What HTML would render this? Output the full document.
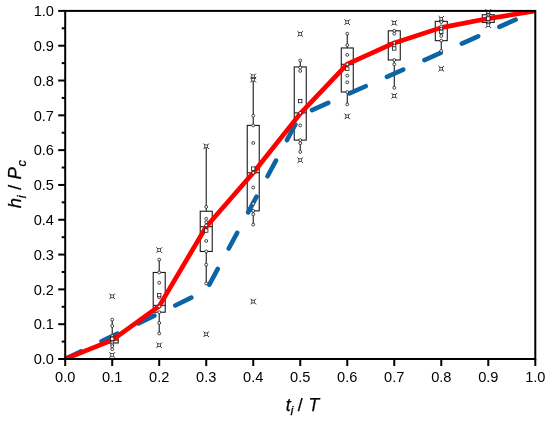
<!DOCTYPE html>
<html><head><meta charset="utf-8"><title>chart</title>
<style>html,body{margin:0;padding:0;background:#fff}svg{display:block}text{font-family:"Liberation Sans",sans-serif;fill:#000}</style></head><body>
<svg width="550" height="421" viewBox="0 0 550 421">
<rect width="550" height="421" fill="#fff"/>
<defs><clipPath id="c"><rect x="65.2" y="10.9" width="470.09999999999997" height="348.1"/></clipPath></defs>
<g fill="none" stroke="#1a1a1a" stroke-width="1.1">
<line x1="112.21" y1="319.66" x2="112.21" y2="337.42"/>
<line x1="112.21" y1="342.99" x2="112.21" y2="349.25"/>
<rect x="106.21" y="337.42" width="12.00" height="5.57" fill="#fff"/>
<line x1="106.21" y1="340.06" x2="118.21" y2="340.06"/>
<line x1="159.22" y1="259.65" x2="159.22" y2="272.46"/>
<line x1="159.22" y1="312.22" x2="159.22" y2="333.45"/>
<rect x="153.22" y="272.46" width="12.00" height="39.75" fill="#fff"/>
<line x1="153.22" y1="305.39" x2="165.22" y2="305.39"/>
<line x1="206.23" y1="146.31" x2="206.23" y2="211.23"/>
<line x1="206.23" y1="251.44" x2="206.23" y2="283.46"/>
<rect x="200.23" y="211.23" width="12.00" height="40.21" fill="#fff"/>
<line x1="200.23" y1="226.72" x2="212.23" y2="226.72"/>
<line x1="253.24" y1="78.08" x2="253.24" y2="125.42"/>
<line x1="253.24" y1="210.85" x2="253.24" y2="224.63"/>
<rect x="247.24" y="125.42" width="12.00" height="85.42" fill="#fff"/>
<line x1="247.24" y1="172.77" x2="259.24" y2="172.77"/>
<line x1="300.25" y1="60.47" x2="300.25" y2="66.94"/>
<line x1="300.25" y1="140.11" x2="300.25" y2="151.88"/>
<rect x="294.25" y="66.94" width="12.00" height="73.17" fill="#fff"/>
<line x1="294.25" y1="112.89" x2="306.25" y2="112.89"/>
<line x1="347.26" y1="33.67" x2="347.26" y2="47.97"/>
<line x1="347.26" y1="92.01" x2="347.26" y2="104.36"/>
<rect x="341.26" y="47.97" width="12.00" height="44.03" fill="#fff"/>
<line x1="341.26" y1="64.30" x2="353.26" y2="64.30"/>
<line x1="394.27" y1="30.81" x2="394.27" y2="30.81"/>
<line x1="394.27" y1="59.98" x2="394.27" y2="87.83"/>
<rect x="388.27" y="30.81" width="12.00" height="29.17" fill="#fff"/>
<line x1="388.27" y1="42.93" x2="400.27" y2="42.93"/>
<line x1="441.28" y1="21.34" x2="441.28" y2="21.34"/>
<line x1="441.28" y1="40.66" x2="441.28" y2="50.93"/>
<rect x="435.28" y="21.34" width="12.00" height="19.32" fill="#fff"/>
<line x1="435.28" y1="27.61" x2="447.28" y2="27.61"/>
<line x1="488.29" y1="12.64" x2="488.29" y2="14.73"/>
<line x1="488.29" y1="22.39" x2="488.29" y2="24.13"/>
<rect x="482.29" y="14.73" width="12.00" height="7.66" fill="#fff"/>
<line x1="482.29" y1="18.56" x2="494.29" y2="18.56"/>
</g>
<g clip-path="url(#c)" fill="none">
<polyline stroke="#0b65a4" stroke-dashoffset="0.6" stroke-width="4.6" stroke-linecap="round" stroke-linejoin="round" stroke-dasharray="17.8 23.2" points="65.20,359.00 206.23,290.42 300.25,115.33 535.30,10.90"/>
<polyline stroke="#ff0000" stroke-width="4.7" stroke-linejoin="round" points="65.20,359.00 112.21,340.06 159.22,306.09 206.23,226.72 253.24,172.77 300.25,113.59 347.26,64.16 394.27,42.93 441.28,27.61 488.29,18.56 535.30,10.90"/>
</g>
<g fill="#fff" stroke="#1a1a1a" stroke-width="0.8">
<circle cx="112.21" cy="319.66" r="1.45"/>
<circle cx="112.21" cy="325.93" r="1.45"/>
<circle cx="112.21" cy="336.03" r="1.45"/>
<circle cx="112.21" cy="338.11" r="1.45"/>
<circle cx="112.21" cy="340.20" r="1.45"/>
<circle cx="112.21" cy="342.29" r="1.45"/>
<circle cx="112.21" cy="344.38" r="1.45"/>
<circle cx="112.21" cy="346.12" r="1.45"/>
<circle cx="112.21" cy="349.25" r="1.45"/>
<rect x="110.51" y="337.11" width="3.4" height="3.4"/>
<path d="M109.41 293.54L115.01 299.14M115.01 293.54L109.41 299.14" fill="none" stroke-width="0.9"/>
<rect x="110.81" y="294.94" width="2.8" height="2.8" stroke-width="0.7"/>
<path d="M109.41 352.20L115.01 357.80M115.01 352.20L109.41 357.80" fill="none" stroke-width="0.9"/>
<rect x="110.81" y="353.60" width="2.8" height="2.8" stroke-width="0.7"/>
<circle cx="159.22" cy="259.65" r="1.45"/>
<circle cx="159.22" cy="272.46" r="1.45"/>
<circle cx="159.22" cy="282.73" r="1.45"/>
<circle cx="159.22" cy="297.28" r="1.45"/>
<circle cx="159.22" cy="306.51" r="1.45"/>
<circle cx="159.22" cy="312.22" r="1.45"/>
<circle cx="159.22" cy="322.94" r="1.45"/>
<circle cx="159.22" cy="333.45" r="1.45"/>
<rect x="157.52" y="293.39" width="3.4" height="3.4"/>
<path d="M156.42 247.31L162.02 252.91M162.02 247.31L156.42 252.91" fill="none" stroke-width="0.9"/>
<rect x="157.82" y="248.71" width="2.8" height="2.8" stroke-width="0.7"/>
<path d="M156.42 342.48L162.02 348.08M162.02 342.48L156.42 348.08" fill="none" stroke-width="0.9"/>
<rect x="157.82" y="343.88" width="2.8" height="2.8" stroke-width="0.7"/>
<circle cx="206.23" cy="206.88" r="1.45"/>
<circle cx="206.23" cy="218.72" r="1.45"/>
<circle cx="206.23" cy="222.20" r="1.45"/>
<circle cx="206.23" cy="225.33" r="1.45"/>
<circle cx="206.23" cy="240.99" r="1.45"/>
<circle cx="206.23" cy="251.44" r="1.45"/>
<circle cx="206.23" cy="264.66" r="1.45"/>
<circle cx="206.23" cy="283.46" r="1.45"/>
<rect x="204.53" y="228.85" width="3.4" height="3.4"/>
<path d="M203.43 143.51L209.03 149.11M209.03 143.51L203.43 149.11" fill="none" stroke-width="0.9"/>
<rect x="204.83" y="144.91" width="2.8" height="2.8" stroke-width="0.7"/>
<path d="M203.43 331.48L209.03 337.08M209.03 331.48L203.43 337.08" fill="none" stroke-width="0.9"/>
<rect x="204.83" y="332.88" width="2.8" height="2.8" stroke-width="0.7"/>
<circle cx="253.24" cy="115.68" r="1.45"/>
<circle cx="253.24" cy="125.42" r="1.45"/>
<circle cx="253.24" cy="142.93" r="1.45"/>
<circle cx="253.24" cy="172.77" r="1.45"/>
<circle cx="253.24" cy="187.53" r="1.45"/>
<circle cx="253.24" cy="203.75" r="1.45"/>
<circle cx="253.24" cy="210.85" r="1.45"/>
<circle cx="253.24" cy="214.19" r="1.45"/>
<circle cx="253.24" cy="224.63" r="1.45"/>
<rect x="251.54" y="166.89" width="3.4" height="3.4"/>
<path d="M250.44 73.54L256.04 79.14M256.04 73.54L250.44 79.14" fill="none" stroke-width="0.9"/>
<rect x="251.84" y="74.94" width="2.8" height="2.8" stroke-width="0.7"/>
<path d="M250.44 76.85L256.04 82.45M256.04 76.85L250.44 82.45" fill="none" stroke-width="0.9"/>
<rect x="251.84" y="78.25" width="2.8" height="2.8" stroke-width="0.7"/>
<path d="M250.44 298.76L256.04 304.36M256.04 298.76L250.44 304.36" fill="none" stroke-width="0.9"/>
<rect x="251.84" y="300.16" width="2.8" height="2.8" stroke-width="0.7"/>
<circle cx="300.25" cy="60.47" r="1.45"/>
<circle cx="300.25" cy="67.64" r="1.45"/>
<circle cx="300.25" cy="70.91" r="1.45"/>
<circle cx="300.25" cy="112.89" r="1.45"/>
<circle cx="300.25" cy="125.42" r="1.45"/>
<circle cx="300.25" cy="140.11" r="1.45"/>
<circle cx="300.25" cy="143.18" r="1.45"/>
<circle cx="300.25" cy="151.88" r="1.45"/>
<rect x="298.55" y="99.36" width="3.4" height="3.4"/>
<path d="M297.45 31.07L303.05 36.67M303.05 31.07L297.45 36.67" fill="none" stroke-width="0.9"/>
<rect x="298.85" y="32.47" width="2.8" height="2.8" stroke-width="0.7"/>
<path d="M297.45 157.43L303.05 163.03M303.05 157.43L297.45 163.03" fill="none" stroke-width="0.9"/>
<rect x="298.85" y="158.83" width="2.8" height="2.8" stroke-width="0.7"/>
<circle cx="347.26" cy="33.67" r="1.45"/>
<circle cx="347.26" cy="45.01" r="1.45"/>
<circle cx="347.26" cy="54.87" r="1.45"/>
<circle cx="347.26" cy="64.30" r="1.45"/>
<circle cx="347.26" cy="75.65" r="1.45"/>
<circle cx="347.26" cy="82.26" r="1.45"/>
<circle cx="347.26" cy="92.01" r="1.45"/>
<circle cx="347.26" cy="104.36" r="1.45"/>
<rect x="345.56" y="66.98" width="3.4" height="3.4"/>
<path d="M344.46 19.41L350.06 25.01M350.06 19.41L344.46 25.01" fill="none" stroke-width="0.9"/>
<rect x="345.86" y="20.81" width="2.8" height="2.8" stroke-width="0.7"/>
<path d="M344.46 113.57L350.06 119.17M350.06 113.57L344.46 119.17" fill="none" stroke-width="0.9"/>
<rect x="345.86" y="114.97" width="2.8" height="2.8" stroke-width="0.7"/>
<circle cx="394.27" cy="30.81" r="1.45"/>
<circle cx="394.27" cy="33.67" r="1.45"/>
<circle cx="394.27" cy="42.93" r="1.45"/>
<circle cx="394.27" cy="45.71" r="1.45"/>
<circle cx="394.27" cy="59.98" r="1.45"/>
<circle cx="394.27" cy="64.30" r="1.45"/>
<circle cx="394.27" cy="87.83" r="1.45"/>
<rect x="392.57" y="46.79" width="3.4" height="3.4"/>
<path d="M391.47 20.04L397.07 25.64M397.07 20.04L391.47 25.64" fill="none" stroke-width="0.9"/>
<rect x="392.87" y="21.44" width="2.8" height="2.8" stroke-width="0.7"/>
<path d="M391.47 93.04L397.07 98.64M397.07 93.04L391.47 98.64" fill="none" stroke-width="0.9"/>
<rect x="392.87" y="94.44" width="2.8" height="2.8" stroke-width="0.7"/>
<circle cx="441.28" cy="22.04" r="1.45"/>
<circle cx="441.28" cy="26.36" r="1.45"/>
<circle cx="441.28" cy="28.65" r="1.45"/>
<circle cx="441.28" cy="33.18" r="1.45"/>
<circle cx="441.28" cy="35.96" r="1.45"/>
<circle cx="441.28" cy="40.66" r="1.45"/>
<circle cx="441.28" cy="50.93" r="1.45"/>
<rect x="439.58" y="30.09" width="3.4" height="3.4"/>
<path d="M438.48 15.93L444.08 21.53M444.08 15.93L438.48 21.53" fill="none" stroke-width="0.9"/>
<rect x="439.88" y="17.33" width="2.8" height="2.8" stroke-width="0.7"/>
<path d="M438.48 65.88L444.08 71.48M444.08 65.88L438.48 71.48" fill="none" stroke-width="0.9"/>
<rect x="439.88" y="67.28" width="2.8" height="2.8" stroke-width="0.7"/>
<circle cx="488.29" cy="12.64" r="1.45"/>
<circle cx="488.29" cy="14.73" r="1.45"/>
<circle cx="488.29" cy="16.47" r="1.45"/>
<circle cx="488.29" cy="18.21" r="1.45"/>
<circle cx="488.29" cy="19.95" r="1.45"/>
<circle cx="488.29" cy="21.69" r="1.45"/>
<circle cx="488.29" cy="23.43" r="1.45"/>
<rect x="486.59" y="16.86" width="3.4" height="3.4"/>
<path d="M485.49 9.14L491.09 14.74M491.09 9.14L485.49 14.74" fill="none" stroke-width="0.9"/>
<rect x="486.89" y="10.54" width="2.8" height="2.8" stroke-width="0.7"/>
<path d="M485.49 22.37L491.09 27.97M491.09 22.37L485.49 27.97" fill="none" stroke-width="0.9"/>
<rect x="486.89" y="23.77" width="2.8" height="2.8" stroke-width="0.7"/>
</g>
<g stroke="#000" stroke-width="2" fill="none" stroke-linecap="butt">
<rect x="65.2" y="10.9" width="470.09999999999997" height="348.1"/>
<line x1="58.2" y1="359.00" x2="65.2" y2="359.00"/>
<line x1="65.20" y1="359.0" x2="65.20" y2="366.0"/>
<line x1="58.2" y1="324.19" x2="65.2" y2="324.19"/>
<line x1="112.21" y1="359.0" x2="112.21" y2="366.0"/>
<line x1="58.2" y1="289.38" x2="65.2" y2="289.38"/>
<line x1="159.22" y1="359.0" x2="159.22" y2="366.0"/>
<line x1="58.2" y1="254.57" x2="65.2" y2="254.57"/>
<line x1="206.23" y1="359.0" x2="206.23" y2="366.0"/>
<line x1="58.2" y1="219.76" x2="65.2" y2="219.76"/>
<line x1="253.24" y1="359.0" x2="253.24" y2="366.0"/>
<line x1="58.2" y1="184.95" x2="65.2" y2="184.95"/>
<line x1="300.25" y1="359.0" x2="300.25" y2="366.0"/>
<line x1="58.2" y1="150.14" x2="65.2" y2="150.14"/>
<line x1="347.26" y1="359.0" x2="347.26" y2="366.0"/>
<line x1="58.2" y1="115.33" x2="65.2" y2="115.33"/>
<line x1="394.27" y1="359.0" x2="394.27" y2="366.0"/>
<line x1="58.2" y1="80.52" x2="65.2" y2="80.52"/>
<line x1="441.28" y1="359.0" x2="441.28" y2="366.0"/>
<line x1="58.2" y1="45.71" x2="65.2" y2="45.71"/>
<line x1="488.29" y1="359.0" x2="488.29" y2="366.0"/>
<line x1="58.2" y1="10.90" x2="65.2" y2="10.90"/>
<line x1="535.30" y1="359.0" x2="535.30" y2="366.0"/>
<line x1="61.7" y1="341.60" x2="65.2" y2="341.60"/>
<line x1="61.7" y1="306.78" x2="65.2" y2="306.78"/>
<line x1="61.7" y1="271.98" x2="65.2" y2="271.98"/>
<line x1="61.7" y1="237.17" x2="65.2" y2="237.17"/>
<line x1="61.7" y1="202.35" x2="65.2" y2="202.35"/>
<line x1="61.7" y1="167.54" x2="65.2" y2="167.54"/>
<line x1="61.7" y1="132.73" x2="65.2" y2="132.73"/>
<line x1="61.7" y1="97.92" x2="65.2" y2="97.92"/>
<line x1="61.7" y1="63.11" x2="65.2" y2="63.11"/>
<line x1="61.7" y1="28.30" x2="65.2" y2="28.30"/>
</g>
<g font-size="14.6px">
<text x="54" y="364.20" text-anchor="end">0.0</text>
<text x="65.20" y="382.3" text-anchor="middle">0.0</text>
<text x="54" y="329.39" text-anchor="end">0.1</text>
<text x="112.21" y="382.3" text-anchor="middle">0.1</text>
<text x="54" y="294.58" text-anchor="end">0.2</text>
<text x="159.22" y="382.3" text-anchor="middle">0.2</text>
<text x="54" y="259.77" text-anchor="end">0.3</text>
<text x="206.23" y="382.3" text-anchor="middle">0.3</text>
<text x="54" y="224.96" text-anchor="end">0.4</text>
<text x="253.24" y="382.3" text-anchor="middle">0.4</text>
<text x="54" y="190.15" text-anchor="end">0.5</text>
<text x="300.25" y="382.3" text-anchor="middle">0.5</text>
<text x="54" y="155.34" text-anchor="end">0.6</text>
<text x="347.26" y="382.3" text-anchor="middle">0.6</text>
<text x="54" y="120.53" text-anchor="end">0.7</text>
<text x="394.27" y="382.3" text-anchor="middle">0.7</text>
<text x="54" y="85.72" text-anchor="end">0.8</text>
<text x="441.28" y="382.3" text-anchor="middle">0.8</text>
<text x="54" y="50.91" text-anchor="end">0.9</text>
<text x="488.29" y="382.3" text-anchor="middle">0.9</text>
<text x="54" y="16.10" text-anchor="end">1.0</text>
<text x="535.30" y="382.3" text-anchor="middle">1.0</text>
</g>
<text transform="translate(21.4 208.2) rotate(-90)" font-size="18.5px" font-style="italic" stroke="#000" stroke-width="0.25">h</text>
<text transform="translate(26.4 198.3) rotate(-90)" font-size="13px" font-style="italic" stroke="#000" stroke-width="0.25">i</text>
<text transform="translate(21.4 190.1) rotate(-90)" font-size="18.5px" font-style="normal" stroke="#000" stroke-width="0.25">/</text>
<text transform="translate(21.4 179.4) rotate(-90)" font-size="18.5px" font-style="italic" stroke="#000" stroke-width="0.25">P</text>
<text transform="translate(26.4 166.6) rotate(-90)" font-size="13px" font-style="italic" stroke="#000" stroke-width="0.25">c</text>
<text x="285.8" y="410.7" font-size="17.6px" font-style="italic" stroke="#000" stroke-width="0.25">t</text>
<text x="290.5" y="415.09999999999997" font-size="13px" font-style="italic" stroke="#000" stroke-width="0.25">i</text>
<text x="297.75" y="410.7" font-size="17.6px" font-style="normal" stroke="#000" stroke-width="0.25">/</text>
<text x="308.5" y="410.7" font-size="17.6px" font-style="italic" stroke="#000" stroke-width="0.25">T</text>
</svg></body></html>
